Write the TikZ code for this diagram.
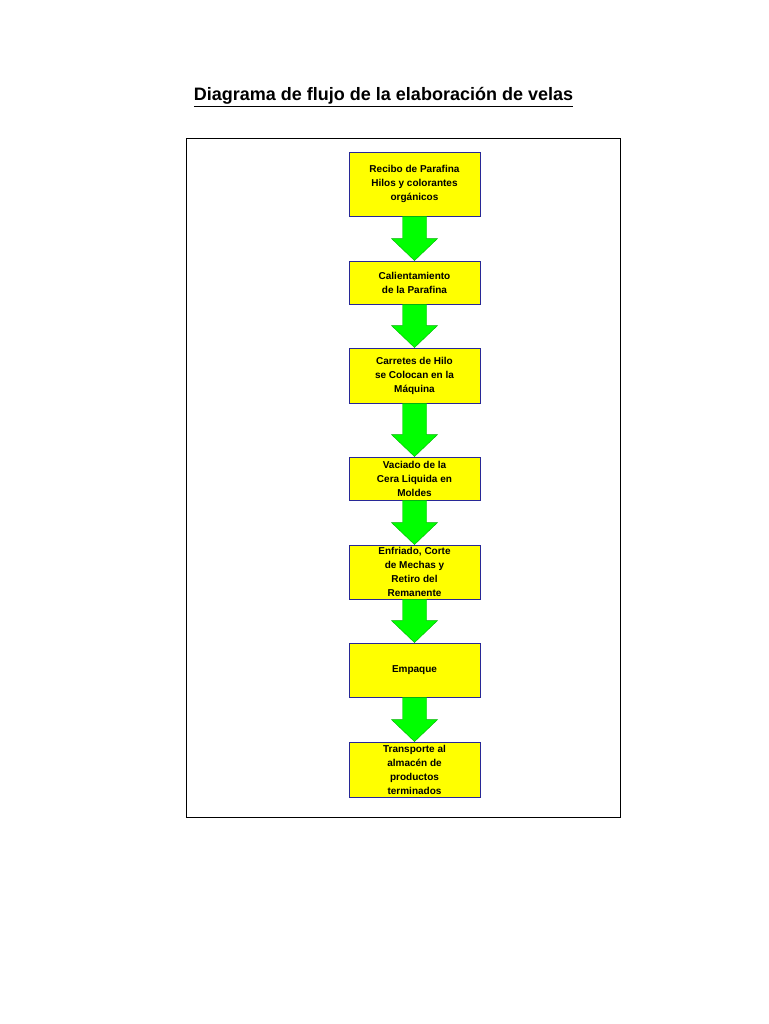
\documentclass[tikz,border=0pt]{standalone}
\usepackage{fontspec}
\setmainfont{Liberation Sans}
\usetikzlibrary{calc}
\definecolor{amarillo}{RGB}{255,255,0}
\definecolor{verde}{RGB}{0,255,0}
\definecolor{azul}{RGB}{40,40,150}
\tikzset{caja/.style={draw=azul, fill=amarillo, line width=0.8pt, minimum width=131pt, align=center,
  font=\fontsize{10}{14}\selectfont\bfseries, inner sep=1pt}}
\begin{document}
\begin{tikzpicture}[x=1pt,y=-1pt]
\useasboundingbox (0,0) rectangle (768,1024);
\node[font=\fontsize{18}{20}\selectfont\bfseries] (titulo) at (383.5,97) {\underline{Diagrama de flujo de la elaboración de velas}};
\draw[line width=0.7pt] (186,138) rectangle (620,817);
\node[caja, minimum height=64pt] (b1) at (414.5,184) {Recibo de Parafina\\Hilos y colorantes\\orgánicos};
\node[caja, minimum height=43pt] (b2) at (414.5,282.5) {Calientamiento\\de la Parafina};
\node[caja, minimum height=55pt] (b3) at (414.5,375.5) {Carretes de Hilo\\se Colocan en la\\Máquina};
\node[caja, minimum height=43pt] (b4) at (414.5,478.5) {Vaciado de la\\Cera Liquida en\\Moldes};
\node[caja, minimum height=54pt] (b5) at (414.5,572) {Enfriado, Corte\\de Mechas y\\Retiro del\\Remanente};
\node[caja, minimum height=54pt] (b6) at (414.5,670) {Empaque};
\node[caja, minimum height=55pt] (b7) at (414.5,769.5) {Transporte al\\almacén de\\productos\\terminados};
\foreach \a/\b in {b1/b2,b2/b3,b3/b4,b4/b5,b5/b6,b6/b7}
  \path let \p1=(\a.south), \p2=(\b.north) in
    [draw=green!70!black, fill=verde, line width=0.4pt]
    (\x1-12pt,\y1) -- (\x1+12pt,\y1) -- (\x1+12pt,\y2+22pt) -- (\x1+23pt,\y2+22pt)
    -- (\x1,\y2) -- (\x1-23pt,\y2+22pt) -- (\x1-12pt,\y2+22pt) -- cycle;
\end{tikzpicture}
\end{document}
